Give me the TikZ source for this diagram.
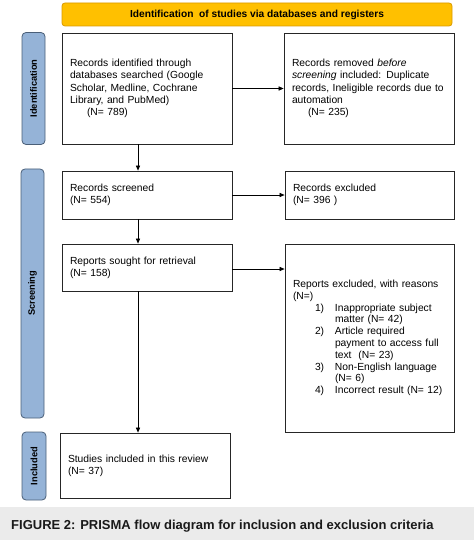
\documentclass[tikz,border=0pt]{standalone}
\usepackage{fontspec}
\setmainfont{Liberation Sans}
\usetikzlibrary{arrows.meta,positioning,calc}
\definecolor{bannerfill}{HTML}{FFC000}
\definecolor{bannerline}{HTML}{D99A00}
\definecolor{sidefill}{HTML}{95B3D7}
\definecolor{sideline}{HTML}{4A5F78}
\definecolor{capfill}{HTML}{EBEBEB}
\definecolor{captext}{HTML}{1A1A1A}
\newcommand{\itm}[2]{\hspace*{22pt}\makebox[20pt][l]{#1}#2}
\newcommand{\cnt}[1]{\hspace*{42pt}#1}
\begin{document}
\begin{tikzpicture}[x=1pt,y=-1pt,
  box/.style={draw=black!85,line width=0.8pt,fill=white,inner xsep=8pt,inner ysep=0pt,
    align=left,font=\fontsize{10.3}{12.3}\selectfont,anchor=center},
  side/.style={draw=sideline,line width=0.8pt,fill=sidefill,rounded corners=4pt,
    font=\bfseries\fontsize{9.3}{11}\selectfont,rotate=90,inner sep=0pt,anchor=center},
  arr/.style={-{Triangle[length=5pt,width=4.2pt]},line width=0.7pt,black}]
\useasboundingbox (0,0) rectangle (474,540);
% caption band
\fill[capfill] (0,507) rectangle (474,540);
\node[anchor=base west,inner sep=0pt,font=\bfseries\fontsize{13}{15}\selectfont,text=captext] (cap) at (11,529) {FIGURE 2: PRISMA flow diagram for inclusion and exclusion criteria};
% banner
\node[draw=bannerline,line width=0.8pt,fill=bannerfill,rounded corners=3pt,minimum width=390pt,minimum height=23pt,
  font=\bfseries\fontsize{10.2}{12}\selectfont,anchor=center] (banner) at (257,14.5) {Identification\ \ of studies via databases and registers};
% side labels
\node[side,minimum width=112pt,minimum height=23pt] (lid) at (33.5,88.5) {Identification};
\node[side,minimum width=249pt,minimum height=23pt] (lsc) at (32.5,293.5) {Screening};
\node[side,minimum width=68pt,minimum height=24pt] (lin) at (34,466) {Included};
% boxes
\node[box,minimum width=170pt,minimum height=111pt,text width=154pt] (b1) at (147,88.5)
  {Records identified through\\databases searched (Google\\Scholar, Medline, Cochrane\\Library, and PubMed)\\\hspace*{17pt}(N= 789)};
\node[box,minimum width=170pt,minimum height=111pt,text width=154pt] (b2) at (369,88.5)
  {Records removed \textit{before}\\\textit{screening} included: Duplicate\\records, Ineligible records due to\\automation\\\hspace*{16pt}(N= 235)};
\node[box,minimum width=170pt,minimum height=48pt,text width=154pt] (b3) at (147,195)
  {Records screened\\(N= 554)};
\node[box,minimum width=169pt,minimum height=48pt,text width=153pt] (b4) at (369.5,195)
  {Records excluded\\(N= 396 )};
\node[box,minimum width=170pt,minimum height=47pt,text width=154pt] (b5) at (147,267.5)
  {Reports sought for retrieval\\(N= 158)};
\node[box,minimum width=169pt,minimum height=188pt,text width=153pt,font=\fontsize{10.3}{11.8}\selectfont] (b6) at (369.5,338)
  {Reports excluded, with reasons\\(N=)\\
   \itm{1)}{Inappropriate subject}\\
   \cnt{matter (N= 42)}\\
   \itm{2)}{Article required}\\
   \cnt{payment to access full}\\
   \cnt{text\ \ (N= 23)}\\
   \itm{3)}{Non-English language}\\
   \cnt{(N= 6)}\\
   \itm{4)}{Incorrect result (N= 12)}};
\node[box,minimum width=170pt,minimum height=65pt,text width=154pt] (b7) at (145,465.5)
  {Studies included in this review\\(N= 37)\\[9pt]};
% connectors
\coordinate (xa) at (138,0);
\draw[arr] (b1.east) -- (b2.west);
\draw[arr] (b1.south -| xa) -- (b3.north -| xa);
\draw[arr] (b3.east) -- (b4.west);
\draw[arr] (b3.south -| xa) -- (b5.north -| xa);
\draw[arr] ($(b5.east)+(0,1.5)$) -- ($(b5.east -| b6.west)+(0,1.5)$);
\draw[arr] (b5.south -| xa) -- (b7.north -| xa);
\end{tikzpicture}
\end{document}
